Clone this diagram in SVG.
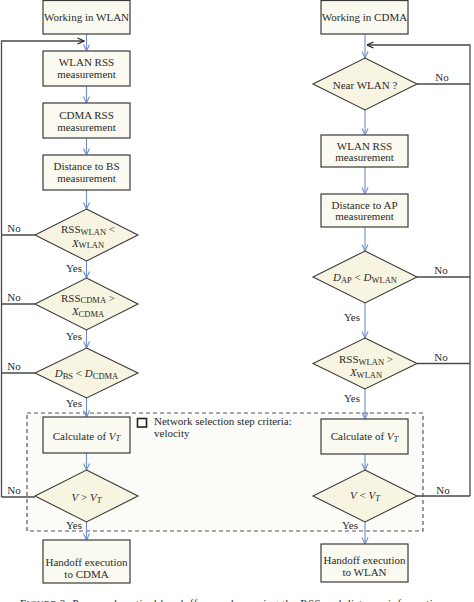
<svg xmlns="http://www.w3.org/2000/svg" width="474" height="602" viewBox="0 0 474 602">
<style>
text{font-family:"Liberation Serif","Times New Roman",serif;font-size:11px;fill:#2a2a2a}
.c{text-anchor:middle}
.box{fill:#fbfaf0;stroke:#3a3a3a;stroke-width:1.2}
.dia{fill:#f7f5e1;stroke:#3a3a3a;stroke-width:1.1}
.flow{stroke:#6f8fcc;stroke-width:1.1;fill:none;marker-end:url(#ah)}
.loop{stroke:#4a4a4a;stroke-width:1.3;fill:none}
.sub{font-size:8.5px}
.i{font-style:italic}
</style>
<defs>
<marker id="ah" viewBox="0 0 8 8" refX="7.5" refY="4" markerWidth="8" markerHeight="8" markerUnits="userSpaceOnUse" orient="auto">
<path d="M1,1 L7.5,4 L1,7" fill="none" stroke="#6f8fcc" stroke-width="1.1"/>
</marker>
<marker id="ak" viewBox="0 0 8 8" refX="7.5" refY="4" markerWidth="8" markerHeight="8" markerUnits="userSpaceOnUse" orient="auto">
<path d="M1,1 L7.5,4 L1,7" fill="none" stroke="#222" stroke-width="1.2"/>
</marker>
</defs>
<rect width="474" height="602" fill="#fff"/>

<g id="region">
<rect x="27" y="413" width="396" height="118" fill="#fbfbf8" stroke="#555" stroke-width="1.2" stroke-dasharray="4,3"/>
<rect x="137.5" y="418.5" width="9" height="8.5" fill="#fff" stroke="#222" stroke-width="1.6"/>
<text x="154" y="425">Network selection step criteria:</text>
<text x="154" y="437">velocity</text>
</g>

<g id="connectors">
<path class="loop" d="M1.5,497 V41 H84" marker-end="url(#ak)"/>
<path class="loop" d="M35,235 H1.5 M35,304 H1.5 M35,373 H1.5 M35,497 H1.5"/>
<path class="loop" d="M470,496 V45 H367" marker-end="url(#ak)"/>
<path class="loop" d="M417,84 H470 M417,277 H470 M417,363.5 H470 M417,496 H470"/>
<path class="flow" d="M86.5,34 V51"/>
<path class="flow" d="M86.5,86 V103"/>
<path class="flow" d="M86.5,138 V155"/>
<path class="flow" d="M86.5,190 V209"/>
<path class="flow" d="M86.5,261 V278"/>
<path class="flow" d="M86.5,330 V348"/>
<path class="flow" d="M86.5,398 V417"/>
<path class="flow" d="M86.5,453 V470"/>
<path class="flow" d="M86.5,522 V540"/>
<path class="flow" d="M365,34 V58"/>
<path class="flow" d="M365,110 V135"/>
<path class="flow" d="M365,167 V194"/>
<path class="flow" d="M365,227 V251"/>
<path class="flow" d="M365,303 V338"/>
<path class="flow" d="M365,389 V419"/>
<path class="flow" d="M365,454 V470"/>
<path class="flow" d="M365,522 V544"/>
<text x="14" y="232" class="c">No</text>
<text x="14" y="301" class="c">No</text>
<text x="14" y="370" class="c">No</text>
<text x="14" y="494" class="c">No</text>
<text x="442" y="81" class="c">No</text>
<text x="441" y="274" class="c">No</text>
<text x="441" y="361" class="c">No</text>
<text x="443" y="494" class="c">No</text>
<text x="82" y="272" text-anchor="end">Yes</text>
<text x="82" y="340" text-anchor="end">Yes</text>
<text x="82" y="407" text-anchor="end">Yes</text>
<text x="82" y="529" text-anchor="end">Yes</text>
<text x="360" y="321" text-anchor="end">Yes</text>
<text x="360" y="402" text-anchor="end">Yes</text>
<text x="358" y="529" text-anchor="end">Yes</text>
</g>

<g id="n_work_wlan">
<rect class="box" x="43" y="0.5" width="87" height="33.5"/>
<text x="86.5" y="21" class="c">Working in WLAN</text>
</g>
<g id="n_wlan_rss_l">
<rect class="box" x="43" y="51" width="87" height="35"/>
<text x="86.5" y="66" class="c">WLAN RSS</text>
<text x="86.5" y="77.5" class="c">measurement</text>
</g>
<g id="n_cdma_rss">
<rect class="box" x="43" y="103" width="87" height="35"/>
<text x="86.5" y="119" class="c">CDMA RSS</text>
<text x="86.5" y="130.5" class="c">measurement</text>
</g>
<g id="n_dist_bs">
<rect class="box" x="43" y="155" width="87" height="35"/>
<text x="86.5" y="170" class="c">Distance to BS</text>
<text x="86.5" y="181.5" class="c">measurement</text>
</g>
<g id="d_rss_wlan_l">
<polygon class="dia" points="86.5,209 138,235 86.5,261 35,235"/>
<text x="88" y="233" class="c">RSS<tspan class="sub" dy="1.5">WLAN</tspan><tspan dy="-1.5"> &lt;</tspan></text>
<text x="88" y="246.5" class="c"><tspan class="i">X</tspan><tspan class="sub" dy="1.5">WLAN</tspan></text>
</g>
<g id="d_rss_cdma">
<polygon class="dia" points="86.5,278 138,304 86.5,330 35,304"/>
<text x="88" y="301.5" class="c">RSS<tspan class="sub" dy="1.5">CDMA</tspan><tspan dy="-1.5"> &gt;</tspan></text>
<text x="88" y="315" class="c"><tspan class="i">X</tspan><tspan class="sub" dy="1.5">CDMA</tspan></text>
</g>
<g id="d_dbs">
<polygon class="dia" points="86.5,348 138,373 86.5,398 35,373"/>
<text x="86.5" y="377" class="c"><tspan class="i">D</tspan><tspan class="sub" dy="1.5">BS</tspan><tspan dy="-1.5"> &lt; </tspan><tspan class="i">D</tspan><tspan class="sub" dy="1.5">CDMA</tspan></text>
</g>
<g id="n_calc_l">
<rect class="box" x="43" y="417" width="87" height="36"/>
<text x="86.5" y="439.5" class="c">Calculate of <tspan class="i">V</tspan><tspan class="sub i" dy="1.5">T</tspan></text>
</g>
<g id="d_v_gt">
<polygon class="dia" points="86.5,470 138,496 86.5,522 35,496"/>
<text x="86.5" y="501" class="c"><tspan class="i">V</tspan> &gt; <tspan class="i">V</tspan><tspan class="sub i" dy="1.5">T</tspan></text>
</g>
<g id="n_handoff_cdma">
<rect class="box" x="43" y="540" width="87" height="43"/>
<text x="86.5" y="565.5" class="c">Handoff execution</text>
<text x="86.5" y="577.5" class="c">to CDMA</text>
</g>

<g id="n_work_cdma">
<rect class="box" x="321" y="0.5" width="87" height="33.5"/>
<text x="364.5" y="21" class="c">Working in CDMA</text>
</g>
<g id="d_near_wlan">
<polygon class="dia" points="365,58 417,84 365,110 313,84"/>
<text x="365" y="89" class="c">Near WLAN ?</text>
</g>
<g id="n_wlan_rss_r">
<rect class="box" x="321" y="135" width="87" height="32"/>
<text x="364.5" y="149.5" class="c">WLAN RSS</text>
<text x="364.5" y="161" class="c">measurement</text>
</g>
<g id="n_dist_ap">
<rect class="box" x="321" y="194" width="87" height="33"/>
<text x="364.5" y="208.5" class="c">Distance to AP</text>
<text x="364.5" y="220" class="c">measurement</text>
</g>
<g id="d_dap">
<polygon class="dia" points="365,251 417,277 365,303 313,277"/>
<text x="365" y="281" class="c"><tspan class="i">D</tspan><tspan class="sub" dy="1.5">AP</tspan><tspan dy="-1.5"> &lt; </tspan><tspan class="i">D</tspan><tspan class="sub" dy="1.5">WLAN</tspan></text>
</g>
<g id="d_rss_wlan_r">
<polygon class="dia" points="365,338 417,363.5 365,389 313,363.5"/>
<text x="366" y="363" class="c">RSS<tspan class="sub" dy="1.5">WLAN</tspan><tspan dy="-1.5"> &gt;</tspan></text>
<text x="366" y="376" class="c"><tspan class="i">X</tspan><tspan class="sub" dy="1.5">WLAN</tspan></text>
</g>
<g id="n_calc_r">
<rect class="box" x="321" y="419" width="87" height="35"/>
<text x="364.5" y="440" class="c">Calculate of <tspan class="i">V</tspan><tspan class="sub i" dy="1.5">T</tspan></text>
</g>
<g id="d_v_lt">
<polygon class="dia" points="365,470 417,496 365,522 313,496"/>
<text x="365" y="499" class="c"><tspan class="i">V</tspan> &lt; <tspan class="i">V</tspan><tspan class="sub i" dy="1.5">T</tspan></text>
</g>
<g id="n_handoff_wlan">
<rect class="box" x="321" y="544" width="87" height="38"/>
<text x="364.5" y="564" class="c">Handoff execution</text>
<text x="364.5" y="576" class="c">to WLAN</text>
</g>

<text x="20" y="607" font-size="11.5" textLength="428">F<tspan font-size="9">IGURE</tspan> 3: Proposed vertical handoff procedure using the RSS and distance information.</text>
</svg>
